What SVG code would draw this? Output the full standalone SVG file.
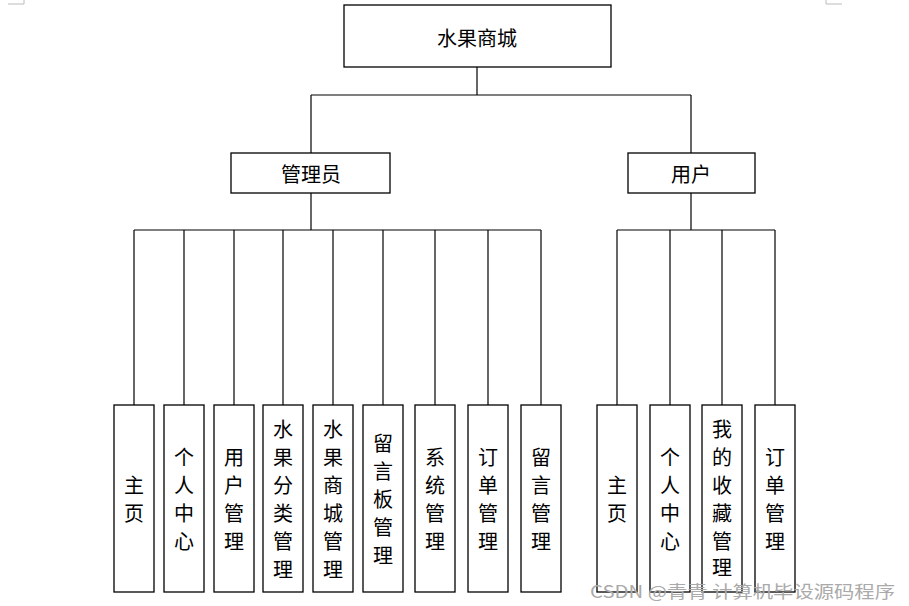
<svg xmlns="http://www.w3.org/2000/svg" width="909" height="606" viewBox="0 0 909 606">
<style>
rect{fill:#fff;stroke:#000;stroke-width:1.3}
.c line{stroke:#000;stroke-width:1.2;fill:none}
text{font-family:"Noto Sans CJK SC","Liberation Sans",sans-serif;font-size:20px;fill:#000;text-anchor:middle;dominant-baseline:central}
.wm{font-size:17px;fill:#aaa;text-anchor:start}
</style>
<rect width="909" height="606" style="fill:#fff;stroke:none"/>
<g style="stroke:#bbb;stroke-width:1;fill:none"><polyline points="8,4 24,4 24,0"/><polyline points="826,0 826,4 842,4"/></g>
<g class="c">
<line x1="477" y1="67" x2="477" y2="95"/>
<line x1="311" y1="95" x2="691" y2="95"/>
<line x1="311" y1="95" x2="311" y2="153"/>
<line x1="691" y1="95" x2="691" y2="153"/>
<line x1="311" y1="193" x2="311" y2="230"/>
<line x1="134" y1="230" x2="541" y2="230"/>
<line x1="691" y1="193" x2="691" y2="230"/>
<line x1="617" y1="230" x2="775" y2="230"/>
<line x1="134" y1="230" x2="134" y2="405"/><line x1="184" y1="230" x2="184" y2="405"/><line x1="234" y1="230" x2="234" y2="405"/><line x1="283" y1="230" x2="283" y2="405"/><line x1="333" y1="230" x2="333" y2="405"/><line x1="383" y1="230" x2="383" y2="405"/><line x1="435" y1="230" x2="435" y2="405"/><line x1="488" y1="230" x2="488" y2="405"/><line x1="541" y1="230" x2="541" y2="405"/>
<line x1="617" y1="230" x2="617" y2="405"/><line x1="670" y1="230" x2="670" y2="405"/><line x1="722" y1="230" x2="722" y2="405"/><line x1="775" y1="230" x2="775" y2="405"/>
</g>
<g id="root"><rect x="344" y="5" width="267" height="62"/><text x="477" y="37">水果商城</text></g>
<g id="admin"><rect x="231" y="153" width="159" height="40"/><text x="311" y="173">管理员</text></g>
<g id="user"><rect x="628" y="153" width="127" height="40"/><text x="691" y="173">用户</text></g>
<g id="a1"><rect x="114" y="405" width="40" height="187"/><text x="134" y="484">主</text><text x="134" y="512">页</text></g>
<g id="a2"><rect x="164" y="405" width="40" height="187"/><text x="184" y="456">个</text><text x="184" y="484">人</text><text x="184" y="512">中</text><text x="184" y="540">心</text></g>
<g id="a3"><rect x="214" y="405" width="40" height="187"/><text x="234" y="456">用</text><text x="234" y="484">户</text><text x="234" y="512">管</text><text x="234" y="540">理</text></g>
<g id="a4"><rect x="263" y="405" width="40" height="187"/><text x="283" y="428">水</text><text x="283" y="456">果</text><text x="283" y="484">分</text><text x="283" y="512">类</text><text x="283" y="540">管</text><text x="283" y="568">理</text></g>
<g id="a5"><rect x="313" y="405" width="40" height="187"/><text x="333" y="428">水</text><text x="333" y="456">果</text><text x="333" y="484">商</text><text x="333" y="512">城</text><text x="333" y="540">管</text><text x="333" y="568">理</text></g>
<g id="a6"><rect x="363" y="405" width="40" height="187"/><text x="383" y="442">留</text><text x="383" y="470">言</text><text x="383" y="498">板</text><text x="383" y="526">管</text><text x="383" y="554">理</text></g>
<g id="a7"><rect x="415" y="405" width="40" height="187"/><text x="435" y="456">系</text><text x="435" y="484">统</text><text x="435" y="512">管</text><text x="435" y="540">理</text></g>
<g id="a8"><rect x="468" y="405" width="40" height="187"/><text x="488" y="456">订</text><text x="488" y="484">单</text><text x="488" y="512">管</text><text x="488" y="540">理</text></g>
<g id="a9"><rect x="521" y="405" width="40" height="187"/><text x="541" y="456">留</text><text x="541" y="484">言</text><text x="541" y="512">管</text><text x="541" y="540">理</text></g>
<g id="u1"><rect x="597" y="405" width="40" height="187"/><text x="617" y="484">主</text><text x="617" y="512">页</text></g>
<g id="u2"><rect x="650" y="405" width="40" height="187"/><text x="670" y="456">个</text><text x="670" y="484">人</text><text x="670" y="512">中</text><text x="670" y="540">心</text></g>
<g id="u3"><rect x="702" y="405" width="40" height="187"/><text x="722" y="428">我</text><text x="722" y="456">的</text><text x="722" y="484">收</text><text x="722" y="512">藏</text><text x="722" y="540">管</text><text x="722" y="566">理</text></g>
<g id="u4"><rect x="755" y="405" width="40" height="187"/><text x="775" y="456">订</text><text x="775" y="484">单</text><text x="775" y="512">管</text><text x="775" y="540">理</text></g>
<text class="wm" x="590" y="590" textLength="305" lengthAdjust="spacingAndGlyphs">CSDN @青青  计算机毕设源码程序</text>
</svg>
